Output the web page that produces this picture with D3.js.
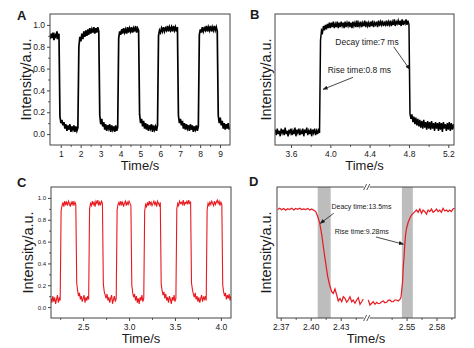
<!DOCTYPE html>
<html>
<head>
<meta charset="utf-8">
<script src="https://cdn.jsdelivr.net/npm/d3@7"></script>
<style>
    body { margin: 0; background: #fff; }
    svg text { font-family: "Liberation Sans", Arial, sans-serif; fill: #1a1a1a; }
</style>
</head>
<body>
<div id="chart"></div>
<script>
// ---- panel A: long square-wave trace, sampled every 50 ms from 0.46 s
const aStart = 0.46, aStep = 0.05;
const aIntensity = [
    0.87, 0.92, 0.88, 0.93, 0.86, 0.91, 0.89, 0.94, 0.87, 0.92,
    0.16, 0.10, 0.13, 0.08, 0.11, 0.05, 0.09, 0.03, 0.08, 0.04, 0.09, 0.02, 0.07, 0.04, 0.08, 0.02, 0.07, 0.03, 0.06,
    0.80, 0.89, 0.85, 0.92, 0.87, 0.94, 0.89, 0.95, 0.90, 0.96, 0.91, 0.97, 0.92, 0.96, 0.93, 0.98, 0.92, 0.97, 0.93, 0.98, 0.94,
    0.17, 0.09, 0.14, 0.07, 0.11, 0.04, 0.09, 0.03, 0.08, 0.05, 0.09, 0.02, 0.08, 0.04, 0.07, 0.02, 0.08, 0.03, 0.06,
    0.88, 0.94, 0.91, 0.96, 0.92, 0.97, 0.93, 0.96, 0.92, 0.98, 0.93, 0.97, 0.94, 0.98, 0.93, 0.97, 0.94, 0.99, 0.93, 0.97, 0.95,
    0.18, 0.10, 0.14, 0.07, 0.12, 0.05, 0.10, 0.04, 0.09, 0.03, 0.08, 0.05, 0.09, 0.02, 0.08, 0.04, 0.07, 0.03, 0.08,
    0.90, 0.95, 0.93, 0.97, 0.94, 0.98, 0.94, 0.97, 0.95, 0.99, 0.94, 0.98, 0.95, 0.98, 0.94, 0.99, 0.95, 0.98, 0.94, 0.98,
    0.17, 0.10, 0.14, 0.08, 0.12, 0.05, 0.10, 0.04, 0.09, 0.05, 0.08, 0.03, 0.09, 0.04, 0.08, 0.02, 0.07, 0.04, 0.08, 0.03, 0.07,
    0.91, 0.96, 0.93, 0.98, 0.94, 0.97, 0.95, 0.99, 0.94, 0.98, 0.95, 0.99, 0.94, 0.98, 0.95, 0.99, 0.95, 0.98, 0.94,
    0.17, 0.10, 0.15, 0.08, 0.12, 0.05, 0.10, 0.04, 0.09, 0.05, 0.10, 0.04
];
const aXTicks = [1, 2, 3, 4, 5, 6, 7, 8, 9];
const aXMinor = [1.5, 2.5, 3.5, 4.5, 5.5, 6.5, 7.5, 8.5];
const yTicks = [0, 0.2, 0.4, 0.6, 0.8, 1.0];
const yMinor = [0.1, 0.3, 0.5, 0.7, 0.9];

// ---- panel B: one pulse, sampled every 10 ms from 3.44 s
const bStart = 3.44, bStep = 0.01;
const bIntensity = [
    0.04, -0.01, 0.05, 0.00, 0.03, -0.02, 0.05, 0.01, 0.04, -0.01,
    0.06, 0.00, 0.03, -0.02, 0.04, 0.01, 0.05, -0.01, 0.03, 0.00,
    0.06, -0.02, 0.04, 0.01, 0.05, -0.01, 0.03, 0.00, 0.05, -0.02,
    0.04, 0.01, 0.06, -0.01, 0.03, 0.00, 0.05, -0.02, 0.04, 0.01,
    0.05, -0.01, 0.03, 0.00, 0.05, 0.01,
    0.86, 0.95, 0.93, 0.99, 0.95, 1.00, 0.96, 1.01, 0.97, 1.02,
    0.97, 1.02, 0.98, 1.03, 0.97, 1.01, 0.98, 1.03, 0.97, 1.02,
    0.98, 1.03, 0.99, 1.02, 0.97, 1.03, 0.98, 1.02, 0.99, 1.03,
    0.98, 1.02, 0.97, 1.03, 0.99, 1.02, 0.98, 1.04, 0.98, 1.02,
    0.99, 1.03, 0.98, 1.02, 0.99, 1.04, 0.98, 1.03, 0.99, 1.02,
    0.98, 1.03, 0.99, 1.04, 0.98, 1.02, 1.00, 1.03, 0.98, 1.04,
    0.99, 1.03, 1.00, 1.04, 0.99, 1.02, 1.00, 1.04, 0.99, 1.03,
    1.00, 1.04, 0.99, 1.03, 1.00, 1.05, 0.99, 1.03, 1.01, 1.04,
    1.00, 1.04, 0.99, 1.05, 1.00, 1.03, 1.01, 1.05, 1.00, 1.04,
    1.00,
    0.19, 0.14, 0.18, 0.11, 0.16, 0.09, 0.15, 0.08, 0.14, 0.07,
    0.13, 0.06, 0.12, 0.05, 0.13, 0.06, 0.11, 0.04, 0.12, 0.05,
    0.11, 0.04, 0.12, 0.05, 0.10, 0.03, 0.11, 0.05, 0.10, 0.03,
    0.11, 0.04, 0.10, 0.02, 0.11, 0.05, 0.09, 0.03, 0.10, 0.04,
    0.11, 0.03, 0.10, 0.04, 0.09, 0.05
];
const bXTicks = [3.6, 4.0, 4.4, 4.8, 5.2];
const bXMinor = [3.8, 4.2, 4.6, 5.0];
const bNotes = [
    { text: "Decay time:7 ms", t: 4.051, v: 0.813 },
    { text: "Rise time:0.8 ms", t: 3.973, v: 0.555 }
];
const bArrows = [
    { from: [4.645, 0.80], to: [4.807, 0.593] },
    { from: [4.231, 0.52], to: [3.926, 0.41] }
];

// ---- panel C: fast switching, sampled every 10 ms from 2.15 s
const cStart = 2.15, cStep = 0.01;
const cIntensity = [
    0.08, 0.04, 0.10, 0.05, 0.09, 0.03, 0.07, 0.11, 0.04, 0.08, 0.06,
    0.88, 0.93, 0.96, 0.92, 0.97, 0.94, 0.96, 0.93, 0.97, 0.95, 0.92, 0.96, 0.94, 0.97, 0.93, 0.96, 0.94,
    0.22, 0.15, 0.10, 0.13, 0.07, 0.10, 0.05, 0.08, 0.11, 0.04, 0.09, 0.06, 0.10, 0.07,
    0.90, 0.95, 0.93, 0.97, 0.94, 0.96, 0.92, 0.97, 0.95, 0.98, 0.93, 0.96, 0.94, 0.97, 0.95,
    0.21, 0.14, 0.11, 0.08, 0.12, 0.06, 0.09, 0.04, 0.08, 0.11, 0.03, 0.07, 0.10, 0.05, 0.08,
    0.89, 0.94, 0.96, 0.93, 0.97, 0.94, 0.96, 0.92, 0.95, 0.97, 0.93, 0.96, 0.94, 0.97, 0.95, 0.93,
    0.20, 0.13, 0.09, 0.12, 0.06, 0.10, 0.04, 0.08, 0.03, 0.09, 0.06, 0.11, 0.05, 0.08,
    0.88, 0.94, 0.92, 0.96, 0.93, 0.97, 0.94, 0.96, 0.93, 0.95, 0.97, 0.94, 0.96, 0.92, 0.97, 0.95, 0.93, 0.96,
    0.21, 0.15, 0.11, 0.14, 0.08, 0.12, 0.06, 0.09, 0.04, 0.10, 0.07, 0.03, 0.09, 0.06, 0.11, 0.05, 0.08,
    0.90, 0.95, 0.93, 0.97, 0.95, 0.96, 0.94, 0.98, 0.93, 0.96, 0.95, 0.97, 0.94, 0.98, 0.95, 0.96,
    0.22, 0.16, 0.12, 0.09, 0.13, 0.07, 0.10, 0.05, 0.09, 0.04, 0.08, 0.11, 0.05, 0.09, 0.07, 0.10, 0.06,
    0.89, 0.95, 0.93, 0.96, 0.94, 0.97, 0.95, 0.93, 0.97, 0.94, 0.96, 0.98, 0.95, 0.97, 0.93, 0.96, 0.94,
    0.20, 0.14, 0.10, 0.13, 0.07, 0.11, 0.08, 0.12, 0.06, 0.10
];
const cXTicks = [2.5, 3.0, 3.5, 4.0];
const cXMinor = [2.25, 2.75, 3.25, 3.75];

// ---- panel D: zoom on one fall and one rise, broken time axis
const dLeftTime = [
    2.367, 2.369, 2.371, 2.373, 2.375, 2.377, 2.379, 2.381, 2.383, 2.385,
    2.387, 2.389, 2.391, 2.393, 2.395, 2.397, 2.399, 2.401, 2.403,
    2.405, 2.407, 2.409, 2.411, 2.413, 2.415, 2.417, 2.419, 2.421,
    2.4226, 2.4243, 2.426, 2.4276, 2.4293, 2.431, 2.4326, 2.4343, 2.436, 2.4376,
    2.4393, 2.441, 2.4426, 2.4443, 2.446, 2.4476, 2.4493, 2.451, 2.4526
];
const dLeftIntensity = [
    0.894, 0.905, 0.891, 0.903, 0.887, 0.901, 0.894, 0.906, 0.889, 0.903,
    0.896, 0.905, 0.893, 0.900, 0.894, 0.904, 0.890, 0.899, 0.888,
    0.875, 0.830, 0.770, 0.665, 0.530, 0.400, 0.280, 0.200, 0.140,
    0.126, 0.166, 0.111, 0.056, 0.080, 0.049, 0.095, 0.080, 0.044, 0.065,
    0.095, 0.049, 0.065, 0.035, 0.065, 0.086, 0.025, 0.049, 0.074
];
const dRightTime = [
    2.5116, 2.5133, 2.515, 2.5166, 2.5183, 2.52, 2.5216, 2.5233, 2.525, 2.5266,
    2.5283, 2.53, 2.5316, 2.5333, 2.535, 2.5366, 2.5383, 2.54, 2.5416, 2.5433,
    2.5443, 2.545, 2.546, 2.5466, 2.5476, 2.5483, 2.549, 2.55, 2.5516, 2.5533,
    2.555, 2.5566, 2.5583, 2.56, 2.5616, 2.5633, 2.565, 2.5666, 2.5683, 2.57,
    2.5716, 2.5733, 2.575, 2.5766, 2.5783, 2.58, 2.5816, 2.5833, 2.585, 2.5866,
    2.5883, 2.59, 2.5916, 2.5933, 2.595, 2.5966, 2.5983
];
const dRightIntensity = [
    0.065, 0.019, 0.035, 0.049, 0.025, 0.044, 0.031, 0.035, 0.049, 0.056,
    0.040, 0.044, 0.062, 0.065, 0.049, 0.049, 0.065, 0.065, 0.056, 0.071,
    0.086, 0.141, 0.233, 0.355, 0.477, 0.584, 0.660, 0.722, 0.777, 0.813,
    0.843, 0.859, 0.874, 0.889, 0.868, 0.898, 0.859, 0.889, 0.874, 0.850,
    0.889, 0.874, 0.898, 0.868, 0.880, 0.898, 0.874, 0.889, 0.868, 0.905,
    0.880, 0.889, 0.874, 0.889, 0.874, 0.898, 0.905
];
const dXTicks = [2.37, 2.40, 2.43, 2.55, 2.58];
const dXMinor = [2.385, 2.415, 2.445, 2.535, 2.565, 2.595];
const dBands = [[2.407, 2.420], [2.5453, 2.5563]];
const dNotes = [
    { text: "Deacy time:13.5ms", t: 2.4208, v: 0.903 },
    { text: "Rise time:9.28ms", t: 2.424, v: 0.674 }
];
const dArrows = [
    { from: [2.423, 0.859], to: [2.4096, 0.767] },
    { from: [2.5193, 0.642], to: [2.5468, 0.576] }
];

const layout = {
    A: { x: 50, y: 14, w: 180, h: 131 },
    B: { x: 275, y: 14, w: 179, h: 131 },
    C: { x: 51, y: 187, w: 180, h: 131 },
    D: { x: 277, y: 187, w: 178, h: 131 }
};
const red = "#e8191f";
const axisColour = "#444";

const svg = d3.select("#chart").append("svg")
    .attr("width", 474)
    .attr("height", 348);

const defs = svg.append("defs");
defs.append("marker")
    .attr("id", "arrow")
    .attr("viewBox", "0 0 10 10")
    .attr("refX", 9).attr("refY", 5)
    .attr("markerUnits", "userSpaceOnUse")
    .attr("markerWidth", 5).attr("markerHeight", 5)
    .attr("orient", "auto")
    .append("path")
    .attr("d", "M0,1L10,5L0,9Z")
    .attr("fill", "#1a1a1a");

const makePanel = (key, x, y, opts) => {
    const L = layout[key];
    const g = svg.append("g").attr("transform", `translate(${L.x},${L.y})`);

    defs.append("clipPath").attr("id", `clip-${key}`)
        .append("rect").attr("width", L.w).attr("height", L.h);

    const plot = g.append("g").attr("clip-path", `url(#clip-${key})`);

    const xAxisGroup = g.append("g")
        .attr("transform", `translate(0,${L.h})`)
        .call(d3.axisBottom(x).tickValues(opts.xTicks).tickSize(3).tickPadding(3).tickFormat(opts.xFormat));
    xAxisGroup.select(".domain").remove();
    xAxisGroup.selectAll("text").style("font-size", "8.5px");

    const xMinorGroup = g.append("g")
        .attr("transform", `translate(0,${L.h})`)
        .call(d3.axisBottom(x).tickValues(opts.xMinor).tickSize(1.8).tickFormat(""));
    xMinorGroup.select(".domain").remove();

    if (opts.yTicks) {
        const yAxisGroup = g.append("g")
            .call(d3.axisLeft(y).tickValues(opts.yTicks).tickSize(3).tickPadding(2).tickFormat(d3.format(".1f")));
        yAxisGroup.select(".domain").remove();
        yAxisGroup.selectAll("text").style("font-size", opts.yFont);

        const yMinorGroup = g.append("g")
            .call(d3.axisLeft(y).tickValues(opts.yMinor).tickSize(1.8).tickFormat(""));
        yMinorGroup.select(".domain").remove();
    }

    g.selectAll(".tick line").attr("stroke", axisColour);

    g.append("rect")
        .attr("class", "frame")
        .attr("width", L.w)
        .attr("height", L.h)
        .attr("fill", "none")
        .attr("stroke", axisColour)
        .attr("stroke-width", 1);

    g.append("text")
        .attr("x", L.w / 2)
        .attr("y", L.h + 25)
        .attr("text-anchor", "middle")
        .style("font-size", "13px")
        .text("Time/s");

    g.append("text")
        .attr("transform", `translate(${opts.yLabelX},${L.h / 2}) rotate(-90)`)
        .attr("text-anchor", "middle")
        .style("font-size", "14.5px")
        .text("Intensity/a.u.");

    svg.append("text")
        .attr("x", opts.letter[0])
        .attr("y", opts.letter[1])
        .style("font-size", "13px")
        .style("font-weight", "bold")
        .text(key);

    return plot;
};

const sampledLine = (x, y, start, step) => d3.line()
    .x((d, i) => x(start + i * step))
    .y(d => y(d));

const addNotes = (key, x, y, notes, arrows, size) => {
    const L = layout[key];
    const g = svg.append("g").attr("transform", `translate(${L.x},${L.y})`);
    notes.forEach(n => {
        g.append("text")
            .attr("x", x(n.t))
            .attr("y", y(n.v))
            .style("font-size", size)
            .text(n.text);
    });
    arrows.forEach(a => {
        g.append("line")
            .attr("x1", x(a.from[0])).attr("y1", y(a.from[1]))
            .attr("x2", x(a.to[0])).attr("y2", y(a.to[1]))
            .attr("stroke", "#1a1a1a")
            .attr("stroke-width", 0.8)
            .attr("marker-end", "url(#arrow)");
    });
};

// ---- A
const aX = d3.scaleLinear().domain([0.46, 9.5]).range([0, layout.A.w]);
const aY = d3.scaleLinear().domain([-0.1, 1.1]).range([layout.A.h, 0]);
const aPlot = makePanel("A", aX, aY, {
    xTicks: aXTicks, xMinor: aXMinor, xFormat: d3.format("d"),
    yTicks: yTicks, yMinor: yMinor, yFont: "8.5px",
    yLabelX: -19, letter: [17, 20]
});
aPlot.append("path")
    .datum(aIntensity)
    .attr("fill", "none")
    .attr("stroke", "#000")
    .attr("stroke-width", 1.7)
    .attr("d", sampledLine(aX, aY, aStart, aStep));

// ---- B
const bX = d3.scaleLinear().domain([3.437, 5.258]).range([0, layout.B.w]);
const bY = d3.scaleLinear().domain([-0.1, 1.1]).range([layout.B.h, 0]);
const bPlot = makePanel("B", bX, bY, {
    xTicks: bXTicks, xMinor: bXMinor, xFormat: d3.format(".1f"),
    yLabelX: -4, letter: [250, 19]
});
bPlot.append("path")
    .datum(bIntensity)
    .attr("fill", "none")
    .attr("stroke", "#000")
    .attr("stroke-width", 1.5)
    .attr("d", sampledLine(bX, bY, bStart, bStep));
addNotes("B", bX, bY, bNotes, bArrows, "8.5px");

// ---- C
const cX = d3.scaleLinear().domain([2.15, 4.11]).range([0, layout.C.w]);
const cY = d3.scaleLinear().domain([-0.1, 1.1]).range([layout.C.h, 0]);
const cPlot = makePanel("C", cX, cY, {
    xTicks: cXTicks, xMinor: cXMinor, xFormat: d3.format(".1f"),
    yTicks: yTicks, yMinor: yMinor, yFont: "6px",
    yLabelX: -18, letter: [17, 187]
});
cPlot.append("path")
    .datum(cIntensity)
    .attr("fill", "none")
    .attr("stroke", red)
    .attr("stroke-width", 1.1)
    .attr("d", sampledLine(cX, cY, cStart, cStep));

// ---- D (piecewise scale for the broken axis)
const dX = d3.scaleLinear()
    .domain([2.3663, 2.456, 2.51, 2.5986])
    .range([0, 89.7, 89.7, layout.D.w]);
const dY = d3.scaleLinear().domain([-0.1, 1.1]).range([layout.D.h, 0]);
const dPlot = makePanel("D", dX, dY, {
    xTicks: dXTicks, xMinor: dXMinor, xFormat: d3.format(".2f"),
    yLabelX: -6, letter: [249, 186]
});
dPlot.selectAll(".band")
    .data(dBands)
    .join("rect")
    .attr("class", "band")
    .attr("x", d => dX(d[0]))
    .attr("width", d => dX(d[1]) - dX(d[0]))
    .attr("y", 0)
    .attr("height", layout.D.h)
    .attr("fill", "#bdbdbd");

const dLine = d3.line().x(d => dX(d[0])).y(d => dY(d[1]));
[d3.zip(dLeftTime, dLeftIntensity), d3.zip(dRightTime, dRightIntensity)].forEach(part => {
    dPlot.append("path")
        .datum(part)
        .attr("fill", "none")
        .attr("stroke", red)
        .attr("stroke-width", 1.2)
        .attr("d", dLine);
});
dPlot.lower();

// break marks "//" on top and bottom edges
const dG = svg.append("g").attr("transform", `translate(${layout.D.x},${layout.D.y})`);
const breakX = dX(2.456);
[0, layout.D.h].forEach(yy => {
    dG.append("rect")
        .attr("x", breakX - 3).attr("y", yy - 1.5)
        .attr("width", 6).attr("height", 3)
        .attr("fill", "#fff");
    [-1.6, 1.6].forEach(off => {
        dG.append("line")
            .attr("x1", breakX + off - 1.5).attr("y1", yy + 3)
            .attr("x2", breakX + off + 1.5).attr("y2", yy - 3)
            .attr("stroke", axisColour)
            .attr("stroke-width", 0.9);
    });
});
addNotes("D", dX, dY, dNotes, dArrows, "7px");
</script>
</body>
</html>
